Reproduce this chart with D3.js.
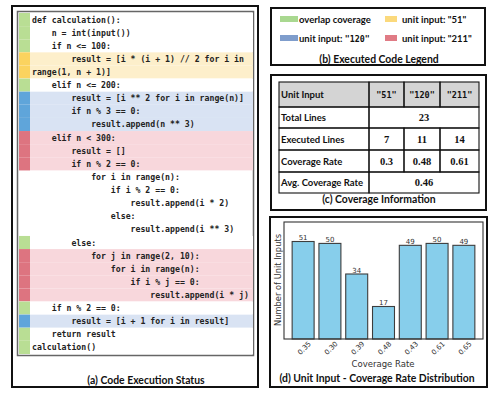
<!DOCTYPE html>
<html>
<head>
<meta charset="utf-8">
<script src="https://cdn.jsdelivr.net/npm/d3@7"></script>
<style>
  body { margin: 0; background: #fff; }
  svg { display: block; }
  .code { font-family: "DejaVu Sans Mono", monospace; font-size: 8.2px; font-weight: bold; fill: #222; white-space: pre; }
  .cap { font-family: Lato, "Open Sans", sans-serif; font-size: 10.4px; font-weight: bold; fill: #111; }
</style>
</head>
<body>
<div id="chart"></div>
<script>
// code listing, one entry per displayed row
var codeLines = [
  "def calculation():",
  "    n = int(input())",
  "    if n <= 100:",
  "        result = [i * (i + 1) // 2 for i in",
  "range(1, n + 1)]",
  "    elif n <= 200:",
  "        result = [i ** 2 for i in range(n)]",
  "        if n % 3 == 0:",
  "            result.append(n ** 3)",
  "    elif n < 300:",
  "        result = []",
  "        if n % 2 == 0:",
  "            for i in range(n):",
  "                if i % 2 == 0:",
  "                    result.append(i * 2)",
  "                else:",
  "                    result.append(i ** 3)",
  "        else:",
  "            for j in range(2, 10):",
  "                for i in range(n):",
  "                    if i % j == 0:",
  "                        result.append(i * j)",
  "    if n % 2 == 0:",
  "        result = [i + 1 for i in result]",
  "    return result",
  "calculation()"
];
// which input executed each row: g = overlap, y = "51", b = "120", r = "211", "" = none
var lineCoverage = ["g","g","g","y","y","g","b","b","b","r","r","r","","","","","","g","r","r","r","r","g","b","g","g"];

var legendKeys = ["g", "y", "b", "r"];
var legendLabels = ["overlap coverage", 'unit input: "51"', 'unit input: ', 'unit input: "211"'];
var legendMono = ["", "", '"120"', ""];

var tableHeader = ["Unit Input", '"51"', '"120"', '"211"'];
var rowLabels = ["Total Lines", "Executed Lines", "Coverage Rate", "Avg. Coverage Rate"];
var totalLines = "23";
var executedLines = ["7", "11", "14"];
var coverageRates = ["0.3", "0.48", "0.61"];
var avgCoverage = "0.46";

var rateLabels = ["0.35", "0.30", "0.39", "0.48", "0.43", "0.61", "0.65"];
var unitCounts = [51, 50, 34, 17, 49, 50, 49];

var stripeColor = { g: "#b9de94", y: "#fbd35f", b: "#5fa5da", r: "#dd7480" };
var rowColor = { g: "#ffffff", y: "#fdefcb", b: "#d9e3f3", r: "#f8d7dc" };
var legendColor = { g: "#a9d890", y: "#fbd97c", b: "#7f9dcc", r: "#e07b85" };

var svg = d3.select("#chart").append("svg")
    .attr("width", 501)
    .attr("height", 419);

// ---------- (a) code execution status ----------
svg.append("rect").attr("x", 12).attr("y", 6).attr("width", 246).attr("height", 381)
    .attr("fill", "none").attr("stroke", "#111").attr("stroke-width", 2);
svg.append("rect").attr("x", 17.5).attr("y", 11.5).attr("width", 236).attr("height", 344)
    .attr("fill", "#fff").attr("stroke", "#666").attr("stroke-width", 1.5);

var rowY = d3.scaleBand().domain(d3.range(codeLines.length)).range([13, 354]);

var rows = svg.append("g").selectAll("g").data(codeLines).join("g")
    .attr("transform", (d, i) => "translate(0," + rowY(i) + ")")
    .datum((d, i) => ({ text: d, cov: lineCoverage[i] }));

var covered = rows.filter(d => d.cov !== "");
covered.append("rect")
    .attr("x", 19).attr("width", 234).attr("height", rowY.bandwidth())
    .attr("fill", d => rowColor[d.cov]);
covered.append("rect")
    .attr("x", 19).attr("width", 11).attr("height", rowY.bandwidth())
    .attr("fill", d => stripeColor[d.cov]);
rows.append("text")
    .attr("class", "code")
    .attr("x", 32)
    .attr("y", rowY.bandwidth() / 2 + 3)
    .text(d => d.text);

svg.append("text").attr("class", "cap").attr("x", 146).attr("y", 384)
    .attr("text-anchor", "middle").text("(a) Code Execution Status");

// ---------- (b) legend ----------
svg.append("rect").attr("x", 271).attr("y", 8).attr("width", 214).attr("height", 57)
    .attr("fill", "none").attr("stroke", "#111").attr("stroke-width", 2);

var legX = d3.scalePoint().domain([0, 1]).range([280, 385]);
var legY = d3.scalePoint().domain([0, 1]).range([19, 38]);
var leg = svg.append("g").selectAll("g").data(legendKeys).join("g")
    .attr("transform", (d, i) => "translate(" + legX(i % 2) + "," + legY(Math.floor(i / 2)) + ")");
leg.append("rect")
    .attr("y", -3)
    .attr("width", (d, i) => i % 2 ? 12 : 18)
    .attr("height", 6)
    .attr("fill", d => legendColor[d]);
var legText = leg.append("text")
    .attr("x", (d, i) => i % 2 ? 17 : 19)
    .attr("y", 3.5)
    .attr("font-family", "Lato, sans-serif")
    .attr("font-weight", "bold")
    .attr("font-size", "9.5px")
    .attr("fill", "#111");
legText.append("tspan").text((d, i) => legendLabels[i]);
legText.append("tspan")
    .attr("font-family", "'DejaVu Sans Mono', monospace")
    .attr("font-size", "8.3px")
    .text((d, i) => legendMono[i]);

svg.append("text").attr("class", "cap").attr("x", 379).attr("y", 63)
    .attr("text-anchor", "middle").text("(b) Executed Code Legend");

// ---------- (c) coverage table ----------
svg.append("rect").attr("x", 271).attr("y", 75).attr("width", 215).attr("height", 135)
    .attr("fill", "none").attr("stroke", "#111").attr("stroke-width", 2);

var colEdges = [279, 369, 404, 440, 479];
var rowEdges = [82, 107, 128, 150, 172, 193];
var tbl = svg.append("g");

tbl.append("rect").attr("x", colEdges[0]).attr("y", rowEdges[0])
    .attr("width", colEdges[4] - colEdges[0]).attr("height", rowEdges[1] - rowEdges[0])
    .attr("fill", "#d4d4d4");

// cells: [row, colStart, colEnd, text, kind]
var cells = [];
tableHeader.forEach((t, i) => cells.push([0, i, i + 1, t, i ? "mono" : "label"]));
rowLabels.forEach((t, i) => cells.push([i + 1, 0, 1, t, "label"]));
cells.push([1, 1, 4, totalLines, "num"]);
executedLines.forEach((t, i) => cells.push([2, i + 1, i + 2, t, "num"]));
coverageRates.forEach((t, i) => cells.push([3, i + 1, i + 2, t, "num"]));
cells.push([4, 1, 4, avgCoverage, "num"]);

tbl.selectAll("rect.cell").data(cells).join("rect")
    .attr("class", "cell")
    .attr("x", d => colEdges[d[1]])
    .attr("y", d => rowEdges[d[0]])
    .attr("width", d => colEdges[d[2]] - colEdges[d[1]])
    .attr("height", d => rowEdges[d[0] + 1] - rowEdges[d[0]])
    .attr("fill", "none")
    .attr("stroke", "#111")
    .attr("stroke-width", 1.1);

tbl.selectAll("text").data(cells).join("text")
    .attr("x", d => d[4] === "label" ? colEdges[d[1]] + 2 : (colEdges[d[1]] + colEdges[d[2]]) / 2)
    .attr("y", d => (rowEdges[d[0]] + rowEdges[d[0] + 1]) / 2 + 3.5)
    .attr("text-anchor", d => d[4] === "label" ? "start" : "middle")
    .attr("font-family", d => d[4] === "mono" ? "'DejaVu Sans Mono', monospace" : d[4] === "num" ? "'Liberation Serif', serif" : "Lato, sans-serif")
    .attr("font-size", d => d[4] === "mono" ? "8.5px" : d[4] === "num" ? "10.5px" : "9.5px")
    .attr("font-weight", "bold")
    .attr("fill", "#111")
    .text(d => d[3]);

svg.append("text").attr("class", "cap").attr("x", 379).attr("y", 203)
    .attr("text-anchor", "middle").text("(c) Coverage Information");

// ---------- (d) bar chart ----------
svg.append("rect").attr("x", 270).attr("y", 217).attr("width", 217).attr("height", 170)
    .attr("fill", "none").attr("stroke", "#111").attr("stroke-width", 2);

var plot = { left: 284, right: 483, top: 222, bottom: 339 };
var x = d3.scaleBand().domain(rateLabels).range([plot.left + 6, plot.right - 6]).paddingInner(0.18).paddingOuter(0.08);
var y = d3.scaleLinear().domain([0, d3.max(unitCounts) * 1.2]).range([plot.bottom, plot.top]);

var bars = svg.append("g");
bars.selectAll("rect").data(rateLabels).join("rect")
    .attr("x", d => x(d))
    .attr("y", (d, i) => y(unitCounts[i]))
    .attr("width", x.bandwidth())
    .attr("height", (d, i) => y(0) - y(unitCounts[i]))
    .attr("fill", "#87ceeb")
    .attr("stroke", "#3d3d3d")
    .attr("stroke-width", 1.1);
bars.selectAll("text").data(rateLabels).join("text")
    .attr("x", d => x(d) + x.bandwidth() / 2)
    .attr("y", (d, i) => y(unitCounts[i]) - 1.5)
    .attr("text-anchor", "middle")
    .attr("font-family", "'DejaVu Sans', sans-serif")
    .attr("font-size", "7px")
    .attr("fill", "#333")
    .text((d, i) => unitCounts[i]);

svg.append("rect").attr("x", plot.left).attr("y", plot.top)
    .attr("width", plot.right - plot.left).attr("height", plot.bottom - plot.top)
    .attr("fill", "none").attr("stroke", "#333").attr("stroke-width", 1.1);

var xAxis = svg.append("g")
    .attr("transform", "translate(0," + plot.bottom + ")")
    .call(d3.axisBottom(x).tickSize(0).tickPadding(4));
xAxis.select(".domain").remove();
xAxis.selectAll("text")
    .attr("font-family", "'DejaVu Sans', sans-serif")
    .attr("font-size", "7px")
    .attr("fill", "#333")
    .attr("text-anchor", "end")
    .attr("dy", "0.5em")
    .attr("transform", "translate(3,0) rotate(-45)");

svg.append("text").attr("x", 383).attr("y", 367).attr("text-anchor", "middle")
    .attr("font-family", "'DejaVu Sans', sans-serif").attr("font-size", "8.5px").attr("fill", "#333")
    .text("Coverage Rate");
svg.append("text").attr("transform", "translate(281,280) rotate(-90)").attr("text-anchor", "middle")
    .attr("font-family", "'DejaVu Sans', sans-serif").attr("font-size", "8.3px").attr("fill", "#333")
    .text("Number of Unit Inputs");

svg.append("text").attr("class", "cap").attr("x", 377).attr("y", 382)
    .attr("text-anchor", "middle").text("(d) Unit Input - Coverage Rate Distribution");
</script>
</body>
</html>
